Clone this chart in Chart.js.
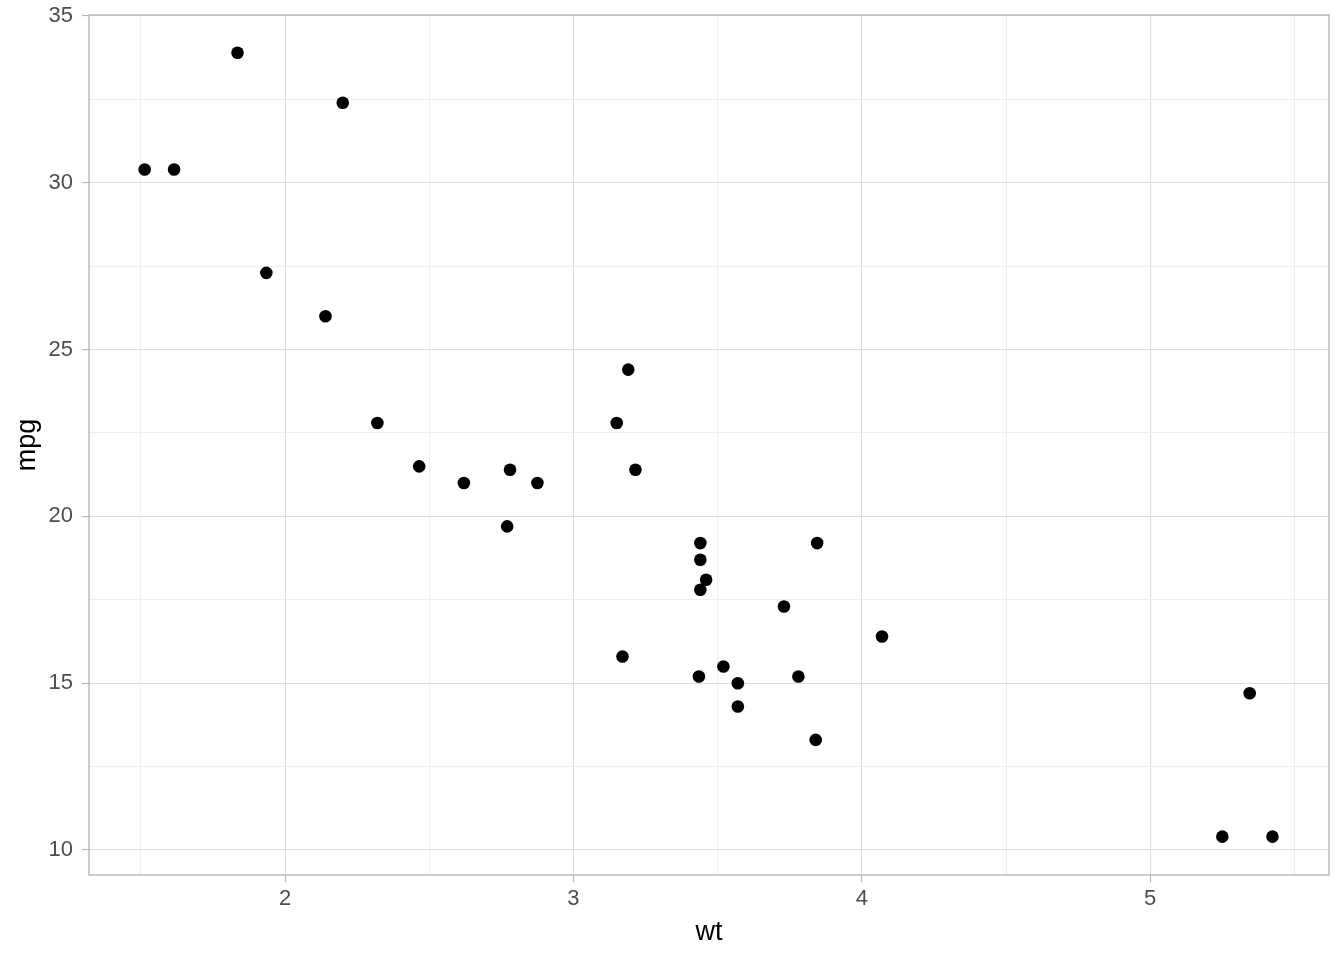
<!DOCTYPE html>
<html>
<head>
<meta charset="utf-8">
<title>mpg vs wt</title>
<script src="https://cdn.jsdelivr.net/npm/chart.js@4/dist/chart.umd.min.js"></script>
<style>
  html, body { margin: 0; padding: 0; background: #fff; }
  #wrap { width: 1344px; height: 960px; }
</style>
</head>
<body>
<div id="wrap"><canvas id="scatter" width="1344" height="960"></canvas></div>
<script>
// mtcars: weight (1000 lbs) and miles per gallon
const wt = [2.620, 2.875, 2.320, 3.215, 3.440, 3.460, 3.570, 3.190, 3.150, 3.440, 3.440,
            4.070, 3.730, 3.780, 5.250, 5.424, 5.345, 2.200, 1.615, 1.835, 2.465, 3.520,
            3.435, 3.840, 3.845, 1.935, 2.140, 1.513, 3.170, 2.770, 3.570, 2.780];
const mpg = [21.0, 21.0, 22.8, 21.4, 18.7, 18.1, 14.3, 24.4, 22.8, 19.2, 17.8,
             16.4, 17.3, 15.2, 10.4, 10.4, 14.7, 32.4, 30.4, 33.9, 21.5, 15.5,
             15.2, 13.3, 19.2, 27.3, 26.0, 30.4, 15.8, 19.7, 15.0, 21.4];

// gridlines: majors get a label, minors sit halfway between
const xGrid = [1.5, 2, 2.5, 3, 3.5, 4, 4.5, 5, 5.5];
const xMajor = [2, 3, 4, 5];
const yGrid = [10, 12.5, 15, 17.5, 20, 22.5, 25, 27.5, 30, 32.5, 35];
const yMajor = [10, 15, 20, 25, 30, 35];

const GRID_MAJOR = '#dedede';
const GRID_MINOR = '#eeeeee';
const AXIS_GREY = '#b3b3b3';
const TEXT_GREY = '#4d4d4d';

// ggplot-ish panel border all the way round
const panelBorder = {
  id: 'panelBorder',
  afterDatasetsDraw(chart) {
    const { ctx, chartArea: a } = chart;
    ctx.save();
    ctx.strokeStyle = AXIS_GREY;
    ctx.lineWidth = 1.3;
    ctx.strokeRect(a.left, a.top, a.right - a.left, a.bottom - a.top);
    ctx.restore();
  }
};

function gridOpts(majors) {
  return {
    color: c => majors.includes(c.tick.value) ? GRID_MAJOR : GRID_MINOR,
    tickColor: c => majors.includes(c.tick.value) ? AXIS_GREY : 'rgba(0,0,0,0)',
    lineWidth: c => majors.includes(c.tick.value) ? 1.1 : 1,
    tickWidth: 1.1,
    tickLength: 7,
    drawTicks: true
  };
}

const ctx = document.getElementById('scatter').getContext('2d');
new Chart(ctx, {
  type: 'scatter',
  data: {
    datasets: [{
      data: wt.map((w, i) => ({ x: w, y: mpg[i] })),
      backgroundColor: '#000',
      borderColor: '#000',
      pointRadius: 6.3,
      pointHoverRadius: 6.3,
      borderWidth: 0
    }]
  },
  options: {
    responsive: false,
    devicePixelRatio: 1,
    animation: false,
    layout: { padding: { top: 15, right: 15, left: 0, bottom: 0 } },
    plugins: { legend: { display: false }, tooltip: { enabled: false } },
    scales: {
      x: {
        type: 'linear',
        min: 1.32,
        max: 5.62,
        afterBuildTicks: s => { s.ticks = xGrid.map(v => ({ value: v })); },
        afterFit: s => { s.height = 85; s.paddingLeft = 0; s.paddingRight = 0; },
        grid: gridOpts(xMajor),
        border: { display: false },
        ticks: {
          color: TEXT_GREY,
          font: { family: 'Liberation Sans', size: 22 },
          padding: 4,
          maxRotation: 0,
          callback: v => xMajor.includes(v) ? String(v) : ''
        },
        title: {
          display: true, text: 'wt', color: '#000',
          font: { family: 'Liberation Sans', size: 27 },
          padding: { top: 0, bottom: 11 }
        }
      },
      y: {
        type: 'linear',
        min: 9.25,
        max: 35.03,
        afterBuildTicks: s => { s.ticks = yGrid.map(v => ({ value: v })); },
        afterFit: s => { s.width = 89; s.paddingTop = 0; s.paddingBottom = 0; },
        grid: gridOpts(yMajor),
        border: { display: false },
        ticks: {
          color: TEXT_GREY,
          font: { family: 'Liberation Sans', size: 22 },
          padding: 9,
          callback: v => yMajor.includes(v) ? String(v) : ''
        },
        title: {
          display: true, text: 'mpg', color: '#000',
          font: { family: 'Liberation Sans', size: 27 },
          padding: { top: 11, bottom: 0 }
        }
      }
    }
  },
  plugins: [panelBorder]
});
</script>
</body>
</html>
